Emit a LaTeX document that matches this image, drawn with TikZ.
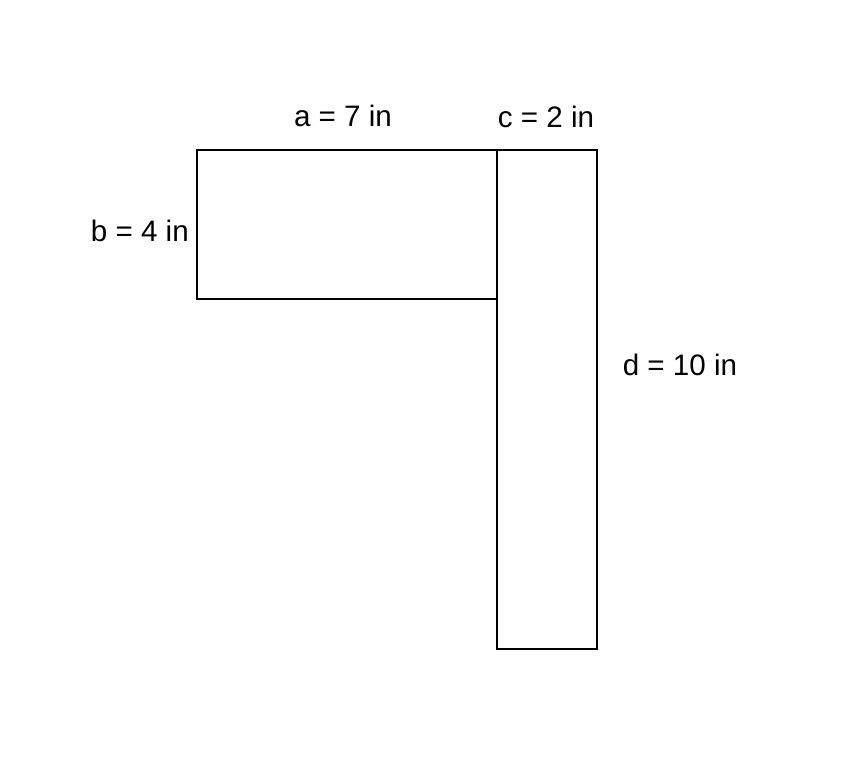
\documentclass[tikz,border=0pt]{standalone}
\usepackage{fontspec}
\setmainfont{Liberation Sans}
\begin{document}
\begin{tikzpicture}[x=1pt,y=-1pt,
  shape box/.style={draw=black,line width=2pt,fill=none},
  lbl/.style={font=\fontsize{29.6}{34}\selectfont,inner sep=0pt,text=black}]
\useasboundingbox (0,0) rectangle (852,775);
\draw[shape box] (197,150) rectangle (497,299);
\draw[shape box] (497,150) rectangle (597,649);
\node[lbl] (a) at (343,116) {a = 7 in};
\node[lbl] (c) at (546,117) {c = 2 in};
\node[lbl,anchor=east] (b) at (189,231) {b = 4 in};
\node[lbl] (d) at (680,365) {d = 10 in};
\end{tikzpicture}
\end{document}
